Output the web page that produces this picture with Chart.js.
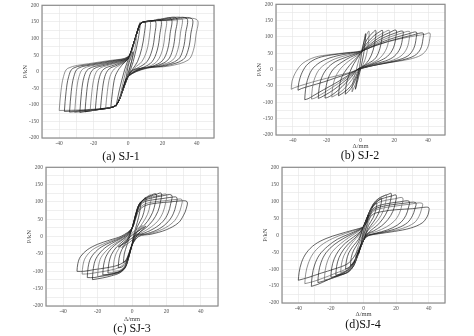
<!DOCTYPE html>
<html>
<head>
<meta charset="utf-8">
<script src="https://cdn.jsdelivr.net/npm/chart.js@4.4.1/dist/chart.umd.min.js"></script>
<style>
  html, body { margin: 0; padding: 0; background: #fff; }
  #page { position: relative; width: 474px; height: 336px; overflow: hidden; }
  #page canvas { position: absolute; }
  .caption {
    position: absolute; transform: translate(-50%, -50%);
    font-family: "Liberation Serif", "DejaVu Serif", serif; font-size: 12px;
    color: #111; white-space: nowrap;
  }
</style>
</head>
<body>
<div id="page"></div>
<script>
'use strict';

/* ------------------------------------------------------------------
   Axis ticks and captions
------------------------------------------------------------------ */
var xTickLabels = [-40, -20, 0, 20, 40];
var yTickLabels = [-200, -150, -100, -50, 0, 50, 100, 150, 200];
var panelCaptions = ['(a) SJ-1', '(b) SJ-2', '(c) SJ-3', '(d)SJ-4'];
var xAxisTitle = 'Δ/mm';
var yAxisTitle = 'P/kN';

/* ------------------------------------------------------------------
   Hysteresis loops, one closed [Δ (mm), P (kN)] path per cycle
------------------------------------------------------------------ */
var sj1Loops = [
  [[-3,-50],[-1,-15],[0,15],[1.5,40],[3,60],[2,30],[0,-5],[-1.5,-30],[-3,-50]],
  [[-5,-85],[-3,-35],[0,25],[2.5,65],[5,110],[4,70],[1.5,20],[0,-15],[-2.5,-50],[-5,-85]],
  [[-7,-105],[-5,-55],[-2,5],[0,35],[3,80],[7,148],[6,100],[3,30],[0,-15],[-3,-55],[-7,-105]],
  [[-10,-108],[-9,-60],[-7.5,-15],[-5,10],[-2,28],[0,38],[3,80],[6,130],[8,147],[10,150],[9.5,115],[8,70],[5.5,30],[3,10],[0,-15],[-3,-55],[-6,-95],[-8,-105],[-10,-108]],
  [[-13,-110],[-12,-60],[-10.5,-15],[-8,8],[-4,22],[0,38],[3,80],[6,130],[8,147],[11,150],[13,151],[12.5,110],[11,65],[8,30],[4,12],[0,-15],[-3,-55],[-6,-95],[-9,-106],[-13,-110]],
  [[-16,-112],[-15,-60],[-13.5,-15],[-11,8],[-6,20],[0,38],[3,80],[6,130],[8,148],[12,151],[16,153],[15.5,110],[14,65],[11,30],[6,12],[2,2],[0,-15],[-3,-55],[-6,-95],[-9,-107],[-13,-110],[-16,-112]],
  [[-19,-115],[-18,-60],[-16.5,-15],[-14,8],[-8,20],[-3,30],[0,40],[3,80],[6,130],[8,148],[13,152],[19,156],[18.5,112],[17,65],[14,30],[9,13],[3,4],[0,-15],[-3,-55],[-6,-95],[-9,-107],[-14,-112],[-19,-115]],
  [[-22,-118],[-21,-60],[-19.5,-15],[-17,8],[-11,20],[-4,30],[0,40],[3,80],[6,130],[8,148],[15,153],[22,158],[21.5,113],[20,65],[17,32],[12,15],[5,6],[0,-15],[-3,-55],[-6,-95],[-9,-107],[-15,-113],[-22,-118]],
  [[-25,-121],[-24,-60],[-22.5,-15],[-20,8],[-13,20],[-5,30],[0,41],[3,80],[6,130],[8,148],[16,154],[25,160],[24.5,115],[23,66],[20,33],[14,16],[6,7],[0,-15],[-3,-55],[-6,-95],[-9,-107],[-17,-114],[-25,-121]],
  [[-28,-123],[-27,-60],[-25.5,-15],[-23,8],[-15,21],[-6,31],[0,42],[3,80],[6,130],[8,148],[18,155],[28,162],[27.5,116],[26,67],[23,34],[16,17],[7,8],[0,-15],[-3,-55],[-6,-95],[-9,-107],[-18,-115],[-28,-123]],
  [[-31,-123],[-30,-60],[-28.5,-15],[-26,9],[-17,22],[-7,32],[0,43],[3,80],[6,130],[8,148],[20,156],[31,162],[30.5,116],[29,67],[26,35],[18,18],[8,9],[0,-15],[-3,-55],[-6,-95],[-9,-107],[-20,-116],[-31,-123]],
  [[-34,-122],[-33,-60],[-31.5,-15],[-29,10],[-19,22],[-8,32],[0,43],[3,80],[6,130],[8,148],[22,156],[34,161],[33.5,115],[32,67],[29,36],[20,18],[9,10],[0,-15],[-3,-55],[-6,-95],[-9,-107],[-22,-116],[-34,-122]],
  [[-37,-120],[-36,-60],[-34.5,-15],[-32,10],[-21,23],[-9,33],[0,44],[3,80],[6,130],[8,148],[24,156],[37,160],[36.5,113],[35,66],[32,36],[22,18],[10,10],[0,-15],[-3,-55],[-6,-95],[-9,-107],[-24,-116],[-37,-120]],
  [[-40,-117],[-39,-60],[-37.5,-15],[-35,10],[-23,24],[-10,34],[0,45],[3,80],[6,130],[8,148],[26,155],[40,157],[39.5,110],[38,64],[35,35],[24,17],[11,10],[0,-15],[-3,-55],[-6,-95],[-9,-107],[-26,-115],[-40,-117]]
];

var sj2Loops = [
  [[-3,-60],[-2,-30],[-0.5,10],[0.5,45],[2,85],[3,110],[2.5,70],[1,25],[-0.5,-10],[-2,-40],[-3,-60]],
  [[-5,-68],[-4.5,-40],[-3,-10],[-1.5,20],[0,48],[1.5,75],[3,100],[5,118],[4.7,85],[3.5,45],[1.5,15],[0,2],[-1.5,-20],[-3,-45],[-5,-68]],
  [[-9,-75],[-8.5,-48],[-7,-18],[-5,8],[-2.5,30],[0,50],[2,72],[4,94],[7,112],[9,120],[8.8,95],[7.5,60],[5,30],[2,12],[0,3],[-2,-20],[-4.5,-48],[-7,-66],[-9,-75]],
  [[-13,-80],[-12.5,-52],[-11,-22],[-8,3],[-5,22],[-2,38],[0,50],[2,68],[5,88],[8,104],[11,115],[13,120],[12.8,100],[11.5,65],[9,36],[5,20],[1,9],[-1,0],[-3,-25],[-6,-52],[-10,-70],[-13,-80]],
  [[-17,-84],[-16.5,-55],[-15,-25],[-12,2],[-8,22],[-4,37],[0,50],[3,68],[6,86],[10,102],[14,114],[17,120],[17,102],[15.5,66],[12,38],[8,23],[3,12],[0,5],[-2,-5],[-5,-30],[-9,-55],[-13,-73],[-17,-84]],
  [[-21,-87],[-20.5,-57],[-19,-25],[-16,2],[-11,23],[-6,38],[-2,47],[0,52],[4,70],[8,87],[12,101],[17,113],[21,121],[21,103],[19.5,67],[16,41],[11,26],[6,16],[1,7],[-2,0],[-5,-20],[-9,-42],[-13,-62],[-17,-78],[-19.5,-85],[-21,-87]],
  [[-25,-88],[-24.5,-57],[-23,-25],[-20,2],[-15,24],[-8,39],[-3,48],[0,53],[5,71],[10,88],[15,101],[20,111],[25,118],[25,101],[23.5,66],[20,41],[15,27],[8,17],[2,8],[-2,0],[-6,-20],[-11,-42],[-16,-62],[-21,-78],[-23.5,-85],[-25,-88]],
  [[-29,-90],[-28.5,-58],[-27,-25],[-24,3],[-18,26],[-11,40],[-4,49],[0,54],[6,72],[12,88],[18,101],[24,111],[29,117],[29,100],[27.5,66],[24,42],[18,27],[10,17],[3,8],[-2,0],[-7,-20],[-13,-42],[-19,-62],[-24,-78],[-27,-87],[-29,-90]],
  [[-33,-92],[-32.5,-60],[-31,-25],[-28,5],[-22,28],[-14,42],[-6,50],[0,55],[7,72],[14,87],[21,99],[28,109],[33,115],[33,98],[31.5,65],[28,42],[21,28],[12,18],[4,9],[-2,0],[-8,-20],[-15,-42],[-22,-62],[-28,-80],[-31,-89],[-33,-92]],
  [[-37,-63],[-36.5,-40],[-34.5,-8],[-31,18],[-25,36],[-17,45],[-8,51],[0,56],[8,72],[16,86],[24,97],[31,106],[37,112],[37,95],[35.5,63],[32,43],[25,30],[16,21],[8,13],[1,4],[-6,-10],[-14,-24],[-22,-38],[-30,-50],[-35,-58],[-37,-63]],
  [[-41,-60],[-40.5,-35],[-38,-5],[-34,20],[-27,38],[-18,46],[-8,52],[0,57],[8,72],[16,85],[24,95],[32,103],[38,108],[41,112],[41,95],[39.5,65],[36,45],[29,32],[20,24],[10,15],[2,6],[-6,-8],[-15,-20],[-25,-33],[-33,-45],[-39,-55],[-41,-60]]
];

var sj3Loops = [
  [[-8,-30],[-4,-14],[0,4],[4,17],[8,30],[4,10],[0,-4],[-4,-18],[-8,-30]],
  [[-6,-32],[-3,-12],[0,10],[3,22],[6,32],[3,14],[0,-10],[-3,-22],[-6,-32]],
  [[-5,-75],[-4.5,-50],[-3,-25],[-1,5],[0,24],[2,58],[3.5,85],[5,100],[4.5,72],[3,40],[1,5],[0,-24],[-2,-55],[-3.5,-70],[-5,-75]],
  [[-8,-90],[-7.5,-62],[-6,-38],[-3,-15],[0,24],[2,60],[4,88],[6,104],[8,112],[7.5,85],[6,56],[3,28],[0,-24],[-2,-58],[-4,-80],[-6,-88],[-8,-90]],
  [[-11,-100],[-10.5,-72],[-9,-46],[-6,-24],[-3,-8],[0,24],[2,62],[4,90],[7,108],[11,120],[10.5,92],[9,64],[6,38],[3,16],[0,-24],[-2,-60],[-4,-85],[-7,-97],[-11,-100]],
  [[-14,-105],[-13.5,-78],[-12,-52],[-9,-30],[-5,-12],[-2,2],[0,24],[2,62],[4,92],[7,108],[10,117],[14,123],[13.5,97],[12,70],[9,44],[5,22],[2,8],[0,-24],[-2,-62],[-4,-88],[-7,-100],[-10,-104],[-14,-105]],
  [[-17,-110],[-16.5,-82],[-15,-56],[-12,-34],[-8,-17],[-4,-3],[0,24],[2,62],[4,92],[7,108],[11,117],[14,122],[17,125],[16.5,99],[15,72],[12,46],[8,25],[4,10],[0,-24],[-2,-62],[-4,-90],[-7,-102],[-11,-107],[-14,-109],[-17,-110]],
  [[-20,-115],[-19.5,-86],[-18,-60],[-14,-36],[-10,-20],[-5,-5],[-2,6],[0,24],[2,60],[4,90],[7,106],[12,115],[16,119],[20,122],[19.5,97],[18,70],[15,45],[10,24],[5,10],[1,2],[0,-24],[-2,-60],[-4,-90],[-7,-104],[-12,-110],[-16,-113],[-20,-115]],
  [[-23,-124],[-22.5,-92],[-21,-64],[-17,-38],[-12,-20],[-7,-7],[-3,5],[0,24],[2,58],[4,88],[7,104],[12,112],[17,117],[23,120],[22.5,95],[21,68],[18,44],[13,24],[7,10],[2,2],[0,-24],[-2,-58],[-4,-88],[-7,-104],[-12,-113],[-17,-119],[-23,-124]],
  [[-26,-118],[-25.5,-88],[-24,-62],[-20,-38],[-15,-22],[-9,-9],[-4,4],[0,24],[2,55],[4,85],[7,100],[12,106],[18,110],[22,113],[26,113],[25.5,90],[24,66],[21,43],[16,23],[9,9],[3,2],[0,-24],[-2,-55],[-4,-85],[-7,-100],[-12,-108],[-18,-114],[-22,-118],[-26,-118]],
  [[-29,-108],[-28.5,-82],[-27,-60],[-23,-38],[-17,-22],[-11,-10],[-5,3],[0,24],[2,52],[4,80],[8,95],[14,101],[20,104],[25,107],[29,107],[28.5,85],[27,64],[24,42],[18,22],[10,8],[4,1],[0,-24],[-2,-52],[-4,-75],[-8,-90],[-14,-98],[-20,-103],[-25,-107],[-29,-108]],
  [[-32,-100],[-31.5,-78],[-30,-58],[-26,-38],[-20,-22],[-13,-10],[-6,2],[0,24],[2,50],[4,75],[8,90],[15,97],[22,100],[28,103],[32,101],[31.5,80],[30,62],[27,40],[20,20],[11,7],[4,1],[0,-24],[-2,-50],[-4,-70],[-8,-82],[-15,-90],[-22,-95],[-28,-100],[-32,-100]]
];

var sj4Loops = [
  [[-3,-55],[-1.5,-25],[0,10],[1.5,35],[3,60],[2,30],[0,0],[-1.5,-28],[-3,-55]],
  [[-5,-75],[-4.5,-52],[-3,-30],[-1,-5],[0,20],[2,45],[3.5,65],[5,80],[4.5,60],[3,38],[1,10],[0,-12],[-2,-40],[-3.5,-62],[-5,-75]],
  [[-8,-90],[-7.5,-66],[-6,-44],[-3,-20],[0,25],[2.5,55],[5,80],[8,95],[7.5,74],[6,52],[3,28],[0,-15],[-3,-48],[-5.5,-76],[-8,-90]],
  [[-11,-100],[-10.5,-76],[-9,-52],[-6,-30],[-3,-12],[0,25],[3,60],[6,88],[9,102],[11,108],[10.5,86],[9,62],[6,38],[3,18],[0,-15],[-3,-50],[-6,-82],[-9,-96],[-11,-100]],
  [[-14,-110],[-13.5,-85],[-12,-60],[-9,-36],[-6,-17],[-3,-2],[0,25],[3,62],[6,92],[9,107],[12,114],[14,118],[13.5,95],[12,70],[9,45],[5,24],[2,10],[0,-15],[-3,-52],[-6,-88],[-9,-103],[-12,-108],[-14,-110]],
  [[-17,-118],[-16.5,-92],[-15,-66],[-12,-41],[-8,-20],[-4,-3],[0,25],[3,62],[6,92],[9,107],[12,115],[15,120],[17,123],[16.5,100],[15,75],[12,49],[8,27],[4,12],[0,-15],[-3,-52],[-6,-90],[-9,-108],[-13,-115],[-17,-118]],
  [[-20,-124],[-19.5,-97],[-18,-70],[-15,-44],[-11,-23],[-6,-5],[-2,10],[0,25],[3,60],[6,88],[9,102],[13,110],[17,115],[20,118],[19.5,95],[18,70],[15,46],[11,27],[6,12],[2,3],[0,-15],[-3,-52],[-6,-90],[-10,-110],[-14,-118],[-17,-122],[-20,-124]],
  [[-24,-132],[-23.5,-104],[-22,-75],[-19,-48],[-14,-25],[-9,-7],[-4,8],[0,25],[3,58],[6,84],[9,96],[14,103],[19,107],[24,110],[23.5,88],[22,64],[19,42],[14,24],[8,11],[3,3],[0,-15],[-3,-50],[-6,-88],[-10,-108],[-15,-120],[-20,-128],[-24,-132]],
  [[-28,-140],[-27.5,-110],[-26,-80],[-23,-52],[-18,-28],[-12,-9],[-6,6],[-2,17],[0,25],[3,54],[6,78],[10,88],[16,94],[22,98],[28,100],[27.5,80],[26,58],[23,38],[18,22],[11,10],[5,3],[1,-3],[0,-15],[-3,-48],[-6,-85],[-10,-105],[-15,-118],[-21,-130],[-28,-140]],
  [[-32,-151],[-31.5,-120],[-30,-88],[-27,-58],[-22,-33],[-16,-12],[-9,3],[-3,16],[0,25],[3,52],[6,74],[11,84],[18,90],[25,94],[32,96],[31.5,77],[30,57],[27,37],[21,21],[13,10],[6,3],[2,-3],[0,-15],[-3,-47],[-6,-82],[-10,-103],[-16,-118],[-22,-132],[-28,-145],[-32,-151]],
  [[-36,-143],[-35.5,-115],[-34,-85],[-31,-55],[-26,-30],[-19,-10],[-11,5],[-4,17],[0,25],[3,50],[6,70],[12,80],[20,86],[28,91],[36,94],[35.5,75],[34,55],[31,36],[24,20],[15,10],[7,3],[2,-3],[0,-15],[-3,-45],[-6,-78],[-10,-98],[-17,-112],[-25,-127],[-31,-137],[-36,-143]],
  [[-40,-133],[-39.5,-110],[-38,-80],[-35,-52],[-30,-28],[-23,-10],[-15,3],[-7,14],[0,25],[3,45],[6,62],[12,70],[20,75],[30,78],[37,82],[40,81],[40,68],[39,54],[36,36],[29,21],[19,11],[9,4],[3,-2],[0,-15],[-3,-40],[-6,-65],[-10,-85],[-18,-100],[-26,-112],[-34,-125],[-40,-133]]
];

/* ------------------------------------------------------------------
   Panel placement (plot area in page pixels)
------------------------------------------------------------------ */
var panels = [
  { loops: sj1Loops, left: 42,  top: 5,   right: 214, bottom: 138, xTitle: false, hx: 11, cap: [121, 156] },
  { loops: sj2Loops, left: 276, top: 4,   right: 445, bottom: 135, xTitle: true,  hx: 16, cap: [360, 155] },
  { loops: sj3Loops, left: 46,  top: 167, right: 218, bottom: 306, xTitle: true,  hx: 18, cap: [132, 328] },
  { loops: sj4Loops, left: 282, top: 167, right: 445, bottom: 303, xTitle: true,  hx: 16, cap: [363, 324] }
];

var Y_AXIS_W = 24, PAD_TOP = 6, PAD_RIGHT = 8;
var tickFont  = { family: "'Liberation Serif', serif", size: 5.5 };
var titleFont = { family: "'Liberation Serif', serif", size: 6.5 };

// grey frame round the plot area
var framePlugin = {
  id: 'frame',
  afterDraw: function (chart) {
    var a = chart.chartArea, ctx = chart.ctx;
    ctx.save();
    ctx.strokeStyle = '#8c8c8c';
    ctx.lineWidth = 1.2;
    ctx.strokeRect(a.left, a.top, a.right - a.left, a.bottom - a.top);
    ctx.restore();
  }
};

function buildPanel(p, idx) {
  var page = document.getElementById('page');
  var canvas = document.createElement('canvas');
  var w = Y_AXIS_W + (p.right - p.left) + PAD_RIGHT;
  var h = PAD_TOP + (p.bottom - p.top) + p.hx;
  canvas.width = w;
  canvas.height = h;
  canvas.style.left = (p.left - Y_AXIS_W) + 'px';
  canvas.style.top = (p.top - PAD_TOP) + 'px';
  canvas.style.width = w + 'px';
  canvas.style.height = h + 'px';
  page.appendChild(canvas);

  var datasets = p.loops.map(function (loop, i) {
    return {
      data: loop,
      showLine: true,
      fill: false,
      tension: 0.35,
      pointRadius: 0,
      borderWidth: 0.75,
      borderColor: (i % 3 === 1) ? 'rgba(95,95,95,0.9)' : 'rgba(25,25,25,0.9)'
    };
  });

  new Chart(canvas.getContext('2d'), {
    type: 'scatter',
    data: { datasets: datasets },
    options: {
      responsive: false,
      animation: false,
      devicePixelRatio: 1,
      layout: { padding: { top: PAD_TOP, right: PAD_RIGHT, left: 0, bottom: 0 } },
      plugins: { legend: { display: false }, tooltip: { enabled: false } },
      scales: {
        x: {
          type: 'linear', min: -50, max: 50,
          afterFit: function (s) { s.height = p.hx; },
          grid: { color: '#e4e4e4', lineWidth: 0.6, drawTicks: false },
          border: { display: false },
          ticks: {
            stepSize: 10, autoSkip: false, maxRotation: 0, padding: 2,
            color: '#555', font: tickFont,
            callback: function (v) { return xTickLabels.indexOf(v) >= 0 ? String(v) : ''; }
          },
          title: {
            display: p.xTitle, text: xAxisTitle, color: '#444', font: titleFont,
            padding: { top: 0, bottom: 1 }
          }
        },
        y: {
          type: 'linear', min: -200, max: 200,
          afterFit: function (s) { s.width = Y_AXIS_W; },
          grid: { color: '#e4e4e4', lineWidth: 0.6, drawTicks: false },
          border: { display: false },
          ticks: {
            stepSize: 25, autoSkip: false, padding: 3,
            color: '#555', font: tickFont,
            callback: function (v) { return yTickLabels.indexOf(v) >= 0 ? String(v) : ''; }
          },
          title: {
            display: true, text: yAxisTitle, color: '#444', font: titleFont,
            padding: { top: 3, bottom: 0 }
          }
        }
      }
    },
    plugins: [framePlugin]
  });

  var cap = document.createElement('div');
  cap.className = 'caption';
  cap.textContent = panelCaptions[idx];
  cap.style.left = p.cap[0] + 'px';
  cap.style.top = p.cap[1] + 'px';
  page.appendChild(cap);
}

panels.forEach(buildPanel);
</script>
</body>
</html>
